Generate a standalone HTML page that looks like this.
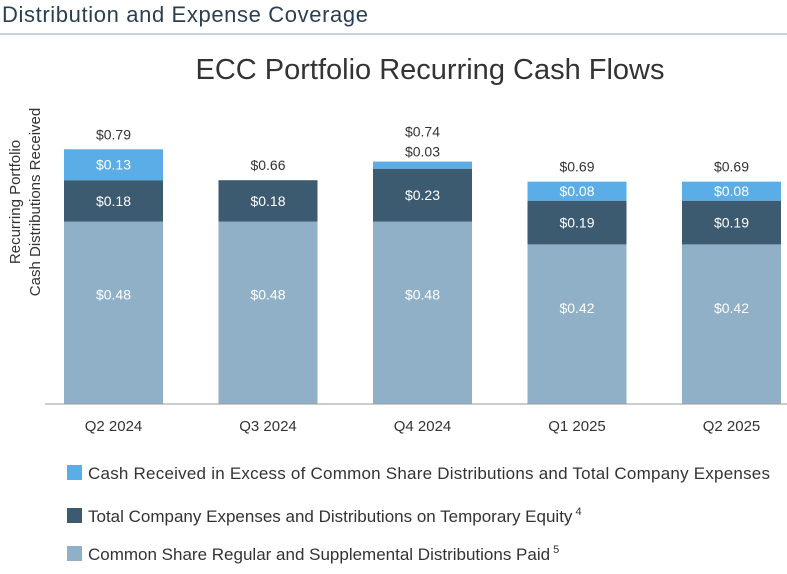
<!DOCTYPE html>
<html><head><meta charset="utf-8"><style>
body{margin:0;width:787px;height:569px;background:#fff;font-family:"Liberation Sans",sans-serif;overflow:hidden}
</style></head><body>
<svg width="787" height="569" xmlns="http://www.w3.org/2000/svg">
<text x="2" y="22" font-size="22" fill="#2b3f52" textLength="366">Distribution and Expense Coverage</text>
<line x1="0" y1="34" x2="787" y2="34" stroke="#8fa6b8" stroke-width="1"/>
<text x="430" y="79" font-size="29" fill="#333" text-anchor="middle">ECC Portfolio Recurring Cash Flows</text>
<g transform="translate(20,202) rotate(-90)">
<text x="0" y="0" font-size="15" fill="#333" text-anchor="middle">Recurring Portfolio</text>
<text x="0" y="20" font-size="15" fill="#333" text-anchor="middle">Cash Distributions Received</text>
</g>
<g id="bars"></g>
<line x1="45" y1="404" x2="787" y2="404" stroke="#999"/>
<g font-size="17" fill="#333">
<rect x="67" y="465" width="15" height="15" fill="#5aade6"/>
<text x="88" y="479" textLength="682">Cash Received in Excess of Common Share Distributions and Total Company Expenses</text>
<rect x="67" y="508" width="15" height="15" fill="#3c5a70"/>
<text x="88" y="522">Total Company Expenses and Distributions on Temporary Equity<tspan font-size="11" dy="-7" dx="3">4</tspan></text>
<rect x="67" y="546" width="15" height="15" fill="#8fb0c6"/>
<text x="88" y="560">Common Share Regular and Supplemental Distributions Paid<tspan font-size="11" dy="-7" dx="3">5</tspan></text>
</g>
</svg>
<script>
const categories=["Q2 2024","Q3 2024","Q4 2024","Q1 2025","Q2 2025"];
const distributions=[0.48,0.48,0.48,0.42,0.42];
const expenses=[0.18,0.18,0.23,0.19,0.19];
const excess=[0.13,0,0.03,0.08,0.08];
const totals=[0.79,0.66,0.74,0.69,0.69];
const NS="http://www.w3.org/2000/svg";
const g=document.getElementById("bars");
const base=404,x0=64,step=154.5,bw=99;
const xb=i=>x0+i*step;
function mk(tag,attrs){const e=document.createElementNS(NS,tag);for(const k in attrs)e.setAttribute(k,attrs[k]);g.appendChild(e);return e;}
const series=[[distributions,"#8fb0c6","distributions",380],[expenses,"#3c5a70","expenses",230],[excess,"#5aade6","excess",238]];
categories.forEach((c,i)=>{
  let top=base;
  series.forEach(([arr,col,nm,sc])=>{
    const v=arr[i];
    if(v>0){
      const h=v*sc;
      const r=mk("rect",{x:xb(i),y:top-h,width:bw,height:h,fill:col});
      
      
      const off=nm==="distributions"?h*0.6:h/2;
      const t=mk("text",{x:xb(i)+bw/2,y:top-off+5,"font-size":14,fill:"#fff","text-anchor":"middle"});
      t.textContent="$"+v.toFixed(2);
      
      
      if(nm==="excess"&&h<14){t.setAttribute("y",top-h-5);t.setAttribute("fill","#333");}
      top-=h;
    }
  });
  const small=excess[i]>0&&excess[i]*238<14;
  const tt=mk("text",{x:xb(i)+bw/2,y:top-(small?25:10),"font-size":14,fill:"#333","text-anchor":"middle"});
  tt.textContent="$"+totals[i].toFixed(2);
  
  
  const cl=mk("text",{x:xb(i)+bw/2,y:431,"font-size":15,fill:"#333","text-anchor":"middle"});
  cl.textContent=c;
  
  
});
</script>
</body></html>
